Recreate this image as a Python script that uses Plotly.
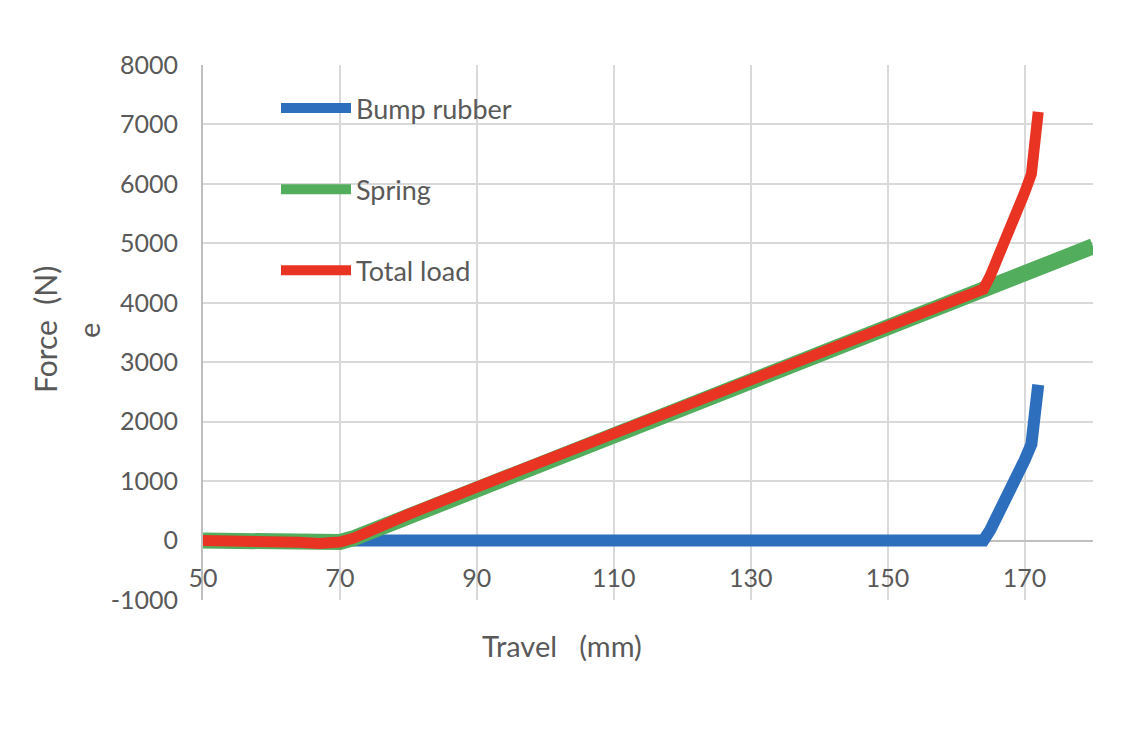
import plotly.graph_objects as go

# ---- data ----
spring_x = [50, 60, 64, 67, 70, 72, 74, 76, 78, 80, 90, 100, 110, 120, 130, 140, 150, 160, 164, 170, 180]
spring_y = [0, 0, -30, -50, -25, 40, 130, 230, 340, 440, 900, 1350, 1800, 2250, 2700, 3150, 3600, 4050, 4230, 4500, 4950]

bump_x = [50, 164, 165, 166, 167, 168, 169, 170, 171, 172]
bump_y = [0, 0, 180, 400, 620, 860, 1100, 1350, 1620, 2620]

total_x = [50, 60, 64, 67, 70, 72, 74, 76, 78, 80, 90, 100, 110, 120, 130, 140, 150, 160, 164,
           165, 166, 167, 168, 169, 170, 171, 172]
total_y = [0, 0, -30, -50, -25, 40, 130, 230, 340, 440, 900, 1350, 1800, 2250, 2700, 3150, 3600, 4050, 4230,
           4455, 4720, 4985, 5270, 5555, 5850, 6165, 7210]

series_names = ["Bump rubber", "Spring", "Total load"]
x_ticks = [50, 70, 90, 110, 130, 150, 170]
y_ticks = [-1000, 0, 1000, 2000, 3000, 4000, 5000, 6000, 7000, 8000]
y_ticklabels = ["-1000", "0", "1000", "2000", "3000", "4000", "5000", "6000", "7000", "8000"]

FONT = "Lato"
TXT = "#595959"
GRID = "#d9d9d9"
NB = "\u00a0"

fig = go.Figure()
fig.add_trace(go.Scatter(x=bump_x, y=bump_y, mode="lines", name=series_names[0], legendgroup="a",
                         line=dict(color="#2e6fbd", width=12)))
fig.add_trace(go.Scatter(x=spring_x, y=spring_y, mode="lines", name=series_names[1], legendgroup="b",
                         line=dict(color="#52ad5c", width=16)))
fig.add_trace(go.Scatter(x=total_x, y=total_y, mode="lines", name=series_names[2], legendgroup="c",
                         line=dict(color="#e93323", width=11)))

W, H = 1144, 734
# plot area on screen: x 203..1093, y 65..600 (page has an 8px body margin)
L, R, T, B = 195, 59, 57, 142
PX0, PX1, PY0, PY1 = 203, 1093, 65, 600


def sx(xs):
    return (xs - PX0) / (PX1 - PX0)


def sy(ys):
    return (PY1 - ys) / (PY1 - PY0)


fig.update_layout(
    width=W, height=H,
    margin=dict(l=L, r=R, t=T, b=B),
    paper_bgcolor="white", plot_bgcolor="white",
    font=dict(family=FONT, size=25, color=TXT),
    showlegend=True,
    legend=dict(x=sx(276), y=sy(84), xanchor="left", yanchor="top",
                bgcolor="rgba(0,0,0,0)", traceorder="grouped", tracegroupgap=43,
                itemwidth=70, font=dict(family=FONT, size=27, color=TXT)),
    xaxis=dict(range=[50, 180], tickvals=x_ticks, showgrid=True, gridcolor=GRID, gridwidth=2,
               zeroline=False, showline=False, anchor="free", position=1/9,
               ticks="", ticklabelstandoff=20, tickfont=dict(size=25, color=TXT, family=FONT)),
    yaxis=dict(range=[-1000, 8000], tickvals=y_ticks, ticktext=y_ticklabels,
               showgrid=True, gridcolor=GRID, gridwidth=2,
               zeroline=True, zerolinecolor="#bfbfbf", zerolinewidth=2,
               showline=True, linecolor="#bfbfbf", linewidth=2,
               ticks="", ticklabelstandoff=18, tickfont=dict(size=25, color=TXT, family=FONT)),
    shapes=[dict(type="rect", xref="paper", yref="paper", x0=sx(205), x1=sx(480), y0=sy(313), y1=sy(69),
                 fillcolor="white", line=dict(width=0), layer="between")],
    annotations=[
        dict(text="Travel" + NB * 3 + "(mm)", xref="paper", yref="paper", x=sx(562), y=sy(645),
             xanchor="center", yanchor="middle",
             showarrow=False, font=dict(size=29, color=TXT, family=FONT)),
        dict(text="Force" + NB * 2 + "(N)", xref="paper", yref="paper", x=sx(45), y=sy(330), textangle=-90,
             xanchor="center", yanchor="middle",
             showarrow=False, font=dict(size=30, color=TXT, family=FONT)),
        dict(text="e", xref="paper", yref="paper", x=sx(88), y=sy(330), textangle=-90,
             xanchor="center", yanchor="middle",
             showarrow=False, font=dict(size=29, color=TXT, family=FONT)),
    ],
)

fig.write_html("out.html")
